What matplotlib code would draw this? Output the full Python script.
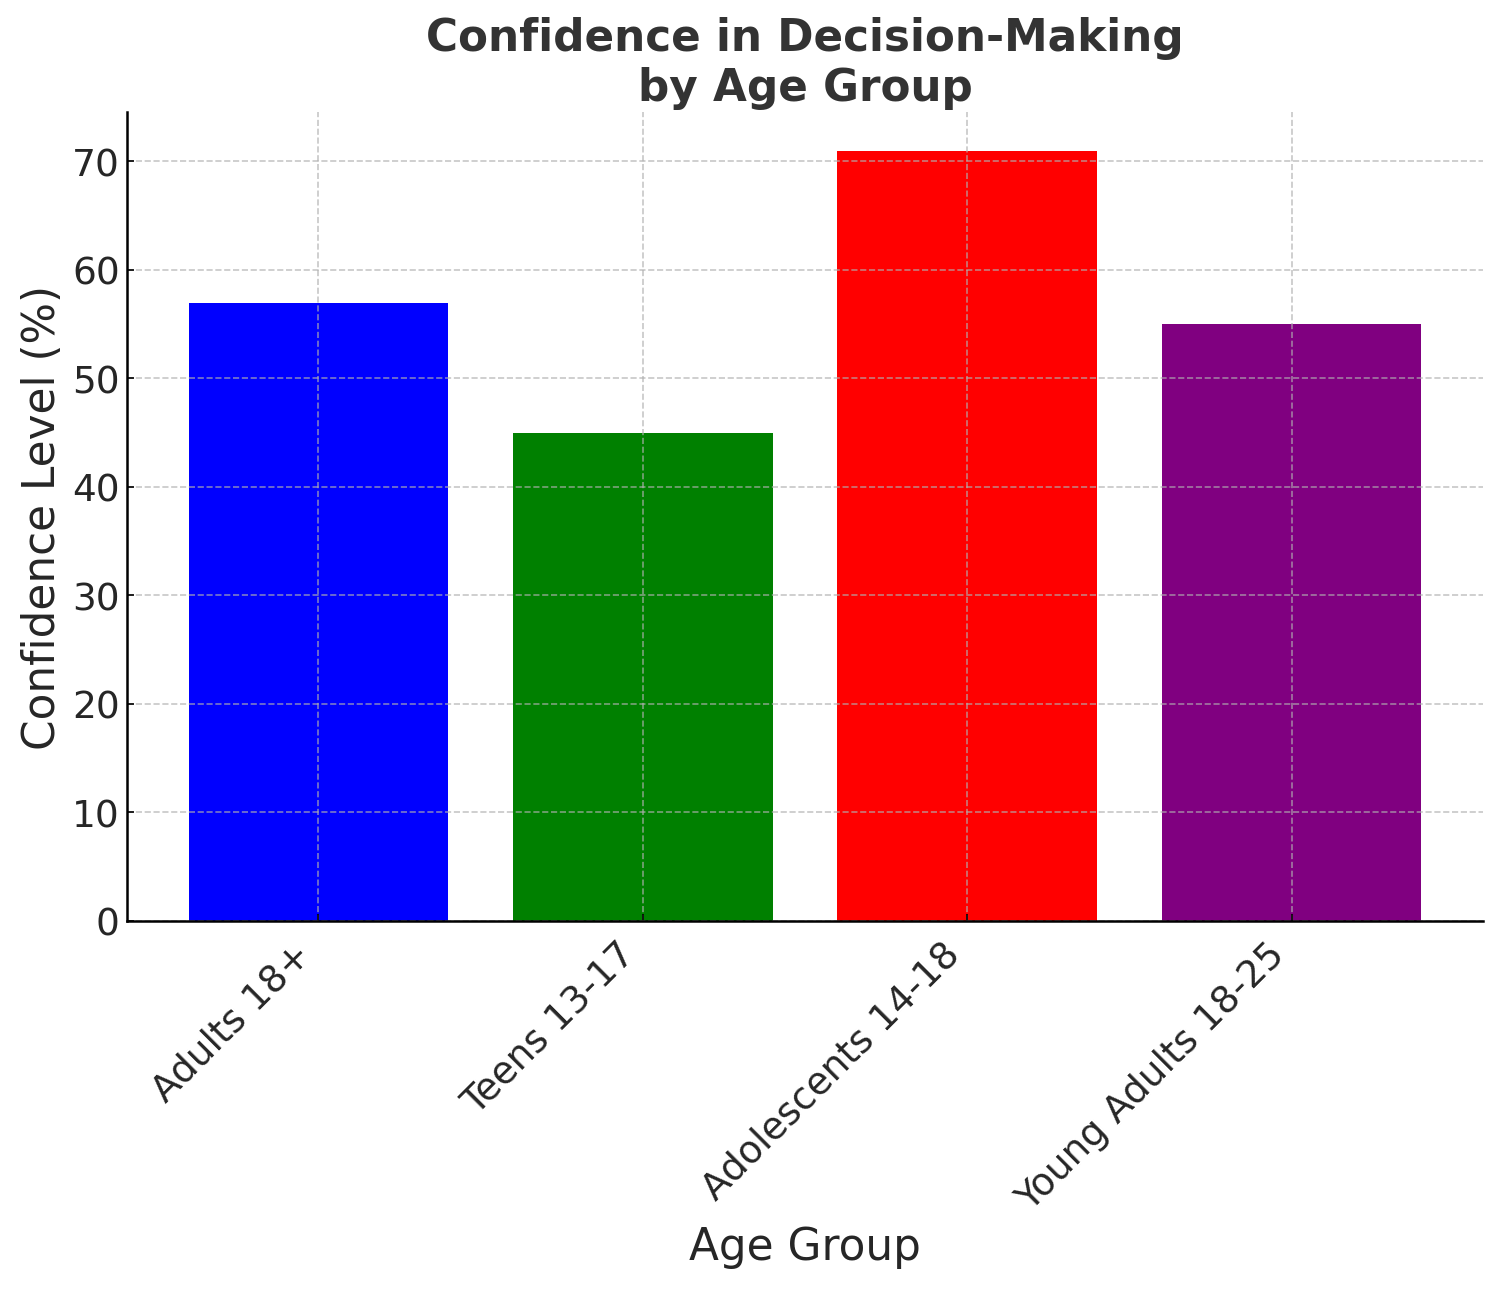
import matplotlib.pyplot as plt

groups = ["Adults 18+", "Teens 13-17", "Adolescents 14-18", "Young Adults 18-25"]
confidence = [57, 45, 71, 55]
bar_colors = ["blue", "green", "red", "purple"]

fig, ax = plt.subplots(figsize=(10, 8.613), dpi=150)
fig.subplots_adjust(left=0.0847, right=0.9887, top=0.9125, bottom=0.2864)

ax.bar(groups, confidence, color=bar_colors, width=0.8, zorder=1)

# dashed grid drawn over the bars, as in the reference
ax.grid(True, linestyle="--", color="#b0b0b0", alpha=0.7, linewidth=0.8, zorder=2)
ax.spines["top"].set_visible(False)
ax.spines["right"].set_visible(False)
for side in ("left", "bottom"):
    ax.spines[side].set_color("black")
    ax.spines[side].set_linewidth(1.2)
    ax.spines[side].set_zorder(4)

ax.set_title("Confidence in Decision-Making\nby Age Group", fontsize=21,
             fontweight="bold", color="#333333")
ax.set_xlabel("Age Group", fontsize=21, color="#262626")
ax.set_ylabel("Confidence Level (%)", fontsize=21, color="#262626")
ax.tick_params(axis="both", direction="in", labelsize=18, labelcolor="#262626",
               color="black", zorder=4)
ax.tick_params(axis="x", pad=7)
plt.setp(ax.get_xticklabels(), rotation=45, ha="right")

fig.savefig("out.png", dpi=150)
